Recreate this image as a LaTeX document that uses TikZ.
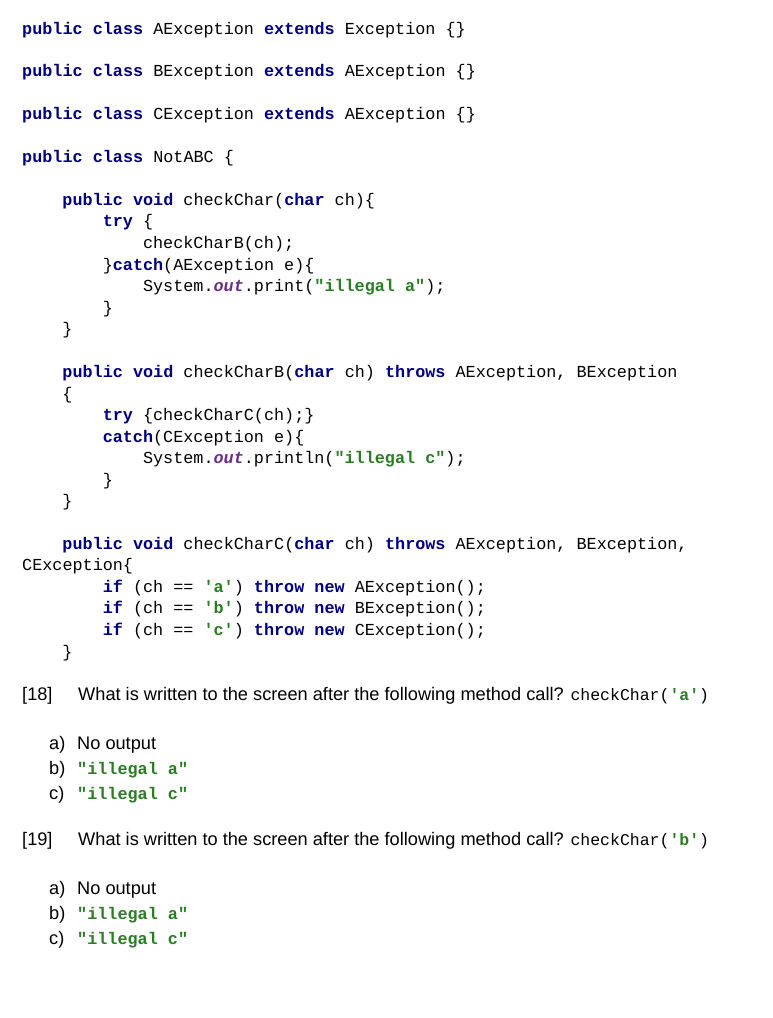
\documentclass[tikz,border=0pt]{standalone}
\usepackage{fontspec}
\setmainfont{Liberation Sans}
\setmonofont{Liberation Mono}
\definecolor{kw}{HTML}{000080}
\definecolor{str}{HTML}{2A7D22}
\definecolor{fld}{HTML}{6A2D8A}
\newcommand{\K}[1]{\textbf{\color{kw}#1}}
\newcommand{\Sg}[1]{\textbf{\color{str}#1}}
\newcommand{\Fo}[1]{\textbf{\textit{\color{fld}#1}}}
\newcommand{\ind}[1]{\hspace*{#1\dimexpr 10.07pt\relax}}
\newcommand{\icode}[1]{{\fontsize{16.5}{18}\selectfont\ttfamily #1}}
\begin{document}
\begin{tikzpicture}[x=1pt,y=-1pt,
  code/.style={anchor=west,inner sep=0pt,font=\fontsize{16.8}{20}\selectfont\ttfamily},
  txt/.style={anchor=west,inner sep=0pt,font=\fontsize{18.2}{20}\selectfont},
  lab/.style={anchor=west,inner sep=0pt,font=\fontsize{18.2}{20}\selectfont}]
\useasboundingbox (0,0) rectangle (772,1018);
\node[code] (c1) at (22,30) {\K{public} \K{class} AException \K{extends} Exception \{\}};
\node[code] (c2) at (22,72) {\K{public} \K{class} BException \K{extends} AException \{\}};
\node[code] (c3) at (22,115) {\K{public} \K{class} CException \K{extends} AException \{\}};
\node[code] (c4) at (22,158) {\K{public} \K{class} NotABC \{};
\node[code] (c5) at (22,201) {\ind{4}\K{public} \K{void} checkChar(\K{char} ch)\{};
\node[code] (c6) at (22,222) {\ind{8}\K{try} \{};
\node[code] (c7) at (22,244) {\ind{12}checkCharB(ch);};
\node[code] (c8) at (22,266) {\ind{8}\}\K{catch}(AException e)\{};
\node[code] (c9) at (22,287) {\ind{12}System.\Fo{out}.print(\Sg{"illegal a"});};
\node[code] (c10) at (22,309) {\ind{8}\}};
\node[code] (c11) at (22,330) {\ind{4}\}};
\node[code] (c12) at (22,373) {\ind{4}\K{public} \K{void} checkCharB(\K{char} ch) \K{throws} AException, BException};
\node[code] (c13) at (22,395) {\ind{4}\{};
\node[code] (c14) at (22,416) {\ind{8}\K{try} \{checkCharC(ch);\}};
\node[code] (c15) at (22,438) {\ind{8}\K{catch}(CException e)\{};
\node[code] (c16) at (22,459) {\ind{12}System.\Fo{out}.println(\Sg{"illegal c"});};
\node[code] (c17) at (22,481) {\ind{8}\}};
\node[code] (c18) at (22,502) {\ind{4}\}};
\node[code] (c19) at (22,545) {\ind{4}\K{public} \K{void} checkCharC(\K{char} ch) \K{throws} AException, BException,};
\node[code] (c20) at (22,566) {CException\{};
\node[code] (c21) at (22,588) {\ind{8}\K{if} (ch == \Sg{'a'}) \K{throw} \K{new} AException();};
\node[code] (c22) at (22,609) {\ind{8}\K{if} (ch == \Sg{'b'}) \K{throw} \K{new} BException();};
\node[code] (c23) at (22,631) {\ind{8}\K{if} (ch == \Sg{'c'}) \K{throw} \K{new} CException();};
\node[code] (c24) at (22,653) {\ind{4}\}};
\node[lab] (n18) at (22,696) {[18]};
\node[txt] (q18) at (78,696) {What is written to the screen after the following method call? \icode{checkChar(\Sg{'a'})}};
\node[lab] (a18a) at (49,745) {a)};
\node[txt] (t18a) at (77,745) {No output};
\node[lab] (a18b) at (49,770) {b)};
\node[code] (t18b) at (77,770) {\Sg{"illegal a"}};
\node[lab] (a18c) at (49,795) {c)};
\node[code] (t18c) at (77,795) {\Sg{"illegal c"}};
\node[lab] (n19) at (22,841) {[19]};
\node[txt] (q19) at (78,841) {What is written to the screen after the following method call? \icode{checkChar(\Sg{'b'})}};
\node[lab] (a19a) at (49,890) {a)};
\node[txt] (t19a) at (77,890) {No output};
\node[lab] (a19b) at (49,915) {b)};
\node[code] (t19b) at (77,915) {\Sg{"illegal a"}};
\node[lab] (a19c) at (49,940) {c)};
\node[code] (t19c) at (77,940) {\Sg{"illegal c"}};
\end{tikzpicture}
\end{document}
